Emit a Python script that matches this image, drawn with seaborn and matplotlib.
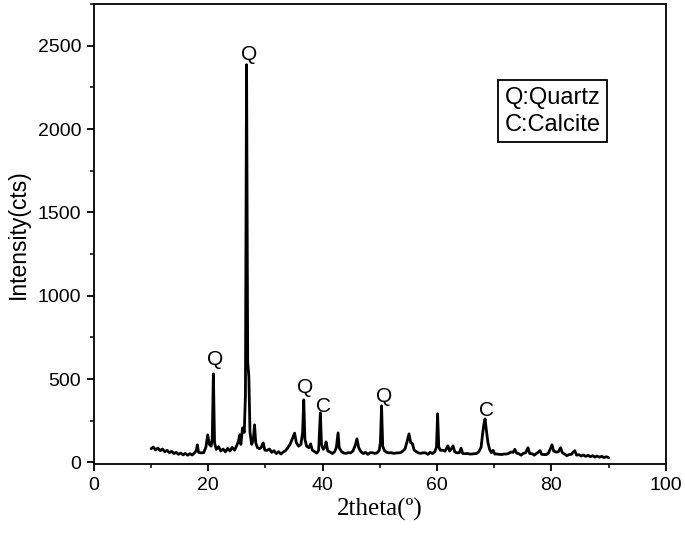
import matplotlib
matplotlib.use('Agg')
import matplotlib.pyplot as plt
from matplotlib.ticker import MultipleLocator
import seaborn as sns
import pandas as pd

# XRD pattern
two_theta = [10.0, 10.4, 10.8, 11.2, 11.6, 12.0, 12.4, 12.8, 13.2, 13.6, 14.0, 14.4, 14.8, 15.2, 15.6, 16.0, 16.4, 16.8, 17.2, 17.6,
             17.9, 18.1, 18.3, 18.7, 19.2, 19.6, 19.9, 20.2, 20.5, 20.7, 20.9, 21.1, 21.4, 21.8, 22.2, 22.6, 23.0, 23.4, 23.8, 24.2,
             24.6, 25.0, 25.3, 25.5, 25.7, 26.0, 26.3, 26.5, 26.7, 26.9, 27.1, 27.3, 27.6, 27.9, 28.1, 28.3, 28.6, 29.0, 29.3, 29.6,
             29.9, 30.3, 30.7, 31.1, 31.5, 31.9, 32.3, 32.7, 33.1, 33.5, 33.9, 34.3, 34.7, 35.1, 35.4, 35.8, 36.2, 36.5, 36.7, 36.9,
             37.2, 37.6, 37.9, 38.2, 38.6, 39.0, 39.3, 39.6, 39.8, 40.1, 40.4, 40.6, 40.9, 41.3, 41.7, 42.1, 42.4, 42.7, 42.9, 43.3,
             43.7, 44.1, 44.5, 44.9, 45.3, 45.7, 46.0, 46.3, 46.7, 47.1, 47.5, 47.9, 48.3, 48.7, 49.1, 49.5, 49.9, 50.1, 50.3, 50.5,
             50.8, 51.2, 51.6, 52.0, 52.4, 52.8, 53.2, 53.6, 54.0, 54.4, 54.8, 55.1, 55.4, 55.7, 56.0, 56.4, 56.8, 57.2, 57.6, 58.0,
             58.4, 58.8, 59.2, 59.6, 59.9, 60.1, 60.3, 60.6, 61.0, 61.4, 61.9, 62.2, 62.5, 62.8, 63.1, 63.5, 63.9, 64.2, 64.5, 64.9,
             65.3, 65.7, 66.1, 66.5, 66.9, 67.3, 67.7, 68.0, 68.2, 68.4, 68.6, 68.9, 69.2, 69.5, 69.8, 70.1, 70.5, 70.9, 71.3, 71.7,
             72.1, 72.5, 72.9, 73.3, 73.6, 73.9, 74.3, 74.7, 75.1, 75.5, 75.9, 76.2, 76.6, 77.0, 77.4, 77.8, 78.0, 78.3, 78.7, 79.1,
             79.5, 79.8, 80.1, 80.4, 80.8, 81.2, 81.6, 81.9, 82.3, 82.7, 83.1, 83.5, 83.8, 84.1, 84.4, 84.8, 85.2, 85.6, 86.0, 86.4,
             86.8, 87.2, 87.6, 88.0, 88.4, 88.8, 89.2, 89.6, 90.0]
intensity = [82, 92, 74, 86, 70, 80, 64, 72, 58, 66, 53, 60, 48, 56, 45, 54, 43, 52, 44, 57,
             70, 105, 60, 57, 58, 92, 165, 108, 97, 140, 531, 118, 78, 94, 68, 80, 63, 84, 68, 90,
             73, 102, 130, 165, 108, 207, 180, 400, 2386, 600, 515, 180, 108, 142, 225, 118, 88, 82, 93, 117,
             73, 72, 80, 60, 70, 53, 64, 50, 62, 70, 87, 108, 142, 175, 118, 97, 108, 180, 375, 138,
             97, 88, 111, 73, 64, 56, 72, 297, 108, 78, 92, 123, 68, 62, 53, 64, 90, 177, 88, 64,
             56, 54, 58, 57, 68, 102, 141, 88, 64, 53, 60, 48, 58, 58, 54, 56, 72, 120, 339, 98,
             70, 60, 57, 58, 54, 56, 57, 58, 67, 80, 130, 171, 118, 112, 73, 64, 56, 54, 58, 57,
             48, 60, 53, 64, 90, 291, 93, 72, 73, 67, 99, 68, 82, 99, 63, 57, 58, 85, 53, 52,
             53, 50, 50, 52, 53, 64, 90, 180, 230, 261, 200, 118, 77, 58, 72, 50, 50, 48, 47, 50,
             50, 53, 62, 60, 78, 56, 52, 43, 54, 58, 88, 53, 52, 43, 54, 63, 70, 48, 47, 46,
             57, 80, 105, 68, 62, 63, 88, 58, 50, 40, 47, 48, 62, 70, 43, 46, 38, 44, 36, 42,
             34, 40, 32, 38, 31, 36, 29, 34, 28]

# peak labels (phase, position, height of the letter)
peak_labels = ['Q', 'Q', 'Q', 'C', 'Q', 'C']
peak_x = [21.2, 27.1, 36.9, 40.2, 50.7, 68.7]
peak_y = [620, 2450, 450, 336, 396, 312]

df = pd.DataFrame({'two_theta': two_theta, 'intensity': intensity})

sns.set_style('ticks')
plt.rcParams['font.family'] = ['Liberation Sans', 'DejaVu Sans']
plt.rcParams['text.color'] = 'black'
plt.rcParams['axes.labelcolor'] = 'black'

fig = plt.figure(figsize=(6.85, 5.38), dpi=100)
ax = fig.add_axes([0.137, 0.1375, 0.835, 0.855])

sns.lineplot(data=df, x='two_theta', y='intensity', ax=ax, color='black',
             linewidth=2.0, sort=False, estimator=None)

for lab, px, py in zip(peak_labels, peak_x, peak_y):
    ax.text(px, py, lab, fontsize=15, ha='center', va='center', color='black')

ax.text(0.718, 0.767, 'Q:Quartz\nC:Calcite', transform=ax.transAxes, fontsize=17,
        ha='left', va='center', linespacing=1.3, color='black',
        bbox=dict(boxstyle='square,pad=0.28', facecolor='white', edgecolor='black', linewidth=1.3))

ax.set_xlim(0, 100)
ax.set_ylim(-10, 2750)
ax.xaxis.set_major_locator(MultipleLocator(20))
ax.xaxis.set_minor_locator(MultipleLocator(10))
ax.yaxis.set_major_locator(MultipleLocator(500))
ax.yaxis.set_minor_locator(MultipleLocator(250))
ax.tick_params(which='major', direction='out', length=5, width=1.3, labelsize=14,
               colors='black', pad=4)
ax.tick_params(which='minor', direction='out', length=3, width=1.1, colors='black')
for s in ax.spines.values():
    s.set_linewidth(1.3)
    s.set_color('black')

ax.set_xlabel('2theta(º)', fontsize=18, family=['Liberation Serif', 'DejaVu Serif'], labelpad=3)
ax.set_ylabel('Intensity(cts)', fontsize=16.5, labelpad=6)

fig.savefig('out.png', dpi=100)
